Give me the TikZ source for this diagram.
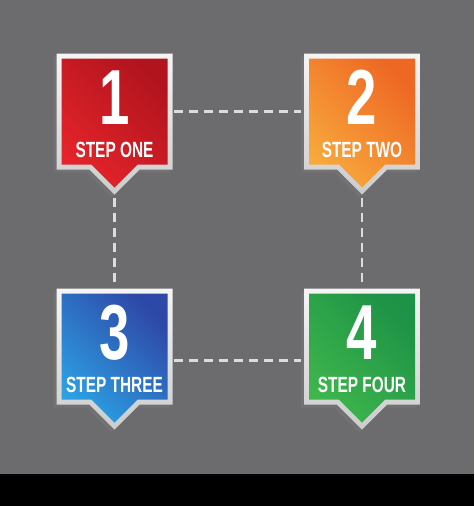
\documentclass[tikz,border=0pt]{standalone}
\usepackage{fontspec}
\newfontfamily\signfont{Liberation Sans}[FakeStretch=0.7]
\usetikzlibrary{shadows}

\definecolor{backgray}{RGB}{108,108,110}
\definecolor{linkgray}{RGB}{220,220,222}
\definecolor{reddark}{RGB}{178,20,30}
\definecolor{redlight}{RGB}{228,36,42}
\definecolor{orangedark}{RGB}{238,104,36}
\definecolor{orangelight}{RGB}{248,168,60}
\definecolor{bluedark}{RGB}{46,72,168}
\definecolor{bluelight}{RGB}{44,160,226}
\definecolor{greendark}{RGB}{30,146,70}
\definecolor{greenlight}{RGB}{62,182,76}

\tikzset{
  signframe/.style={top color=white!92!gray, bottom color=gray!40,
    drop shadow={shadow xshift=-3pt, shadow yshift=-3pt, opacity=.3}},
  stepnum/.style={inner sep=0pt, text=white, font=\signfont\bfseries\fontsize{78}{78}\selectfont},
  steplabel/.style={inner sep=0pt, text=white, font=\signfont\bfseries\fontsize{22}{22}\selectfont},
  link/.style={linkgray, line width=2.5pt, dash pattern=on 9pt off 6pt}
}

% sign: name, centre, dark colour, light colour, number, label
\newcommand{\stepsign}[6]{%
  \node[inner sep=0pt, minimum width=116pt, minimum height=116pt] (#1) at (#2) {};
  \begin{scope}[shift={(#2)}]
    \path[signframe] (-58,-58) -- (58,-58) -- (58,58) -- (25,58) -- (0,83) -- (-25,58) -- (-58,58) -- cycle;
    \path[top color=#3, bottom color=#4, shading angle=-45]
      (-53,-53) -- (53,-53) -- (53,53) -- (23,53) -- (0,76) -- (-23,53) -- (-53,53) -- cycle;
    \coordinate (#1-tip) at (0,83);
    \node[stepnum] (#1-num) at (0,-14) {#5};
    \node[steplabel] (#1-text) at (0,38.5) {#6};
  \end{scope}
}

\begin{document}
\begin{tikzpicture}[x=1pt, y=-1pt]
  \fill[backgray] (0,0) rectangle (474,474);
  \fill[black] (0,474) rectangle (474,506);
  \useasboundingbox (0,0) rectangle (474,506);

  \stepsign{s1}{114.5,111.5}{reddark}{redlight}{1}{STEP ONE}
  \stepsign{s2}{362,111.5}{orangedark}{orangelight}{2}{STEP TWO}
  \stepsign{s3}{114.5,346.5}{bluedark}{bluelight}{3}{STEP THREE}
  \stepsign{s4}{362,346.5}{greendark}{greenlight}{4}{STEP FOUR}

  \draw[link, shorten <=1.5pt, shorten >=3pt] (s1.east) -- (s2.west);
  \draw[link, shorten <=1.5pt, shorten >=3pt] ([yshift=-14pt]s3.east) -- ([yshift=-14pt]s4.west);
  \draw[link, shorten <=3pt, shorten >=4pt] (s1-tip) -- (s3.north);
  \draw[link, shorten <=3pt, shorten >=4pt] (s2-tip) -- (s4.north);
\end{tikzpicture}
\end{document}
